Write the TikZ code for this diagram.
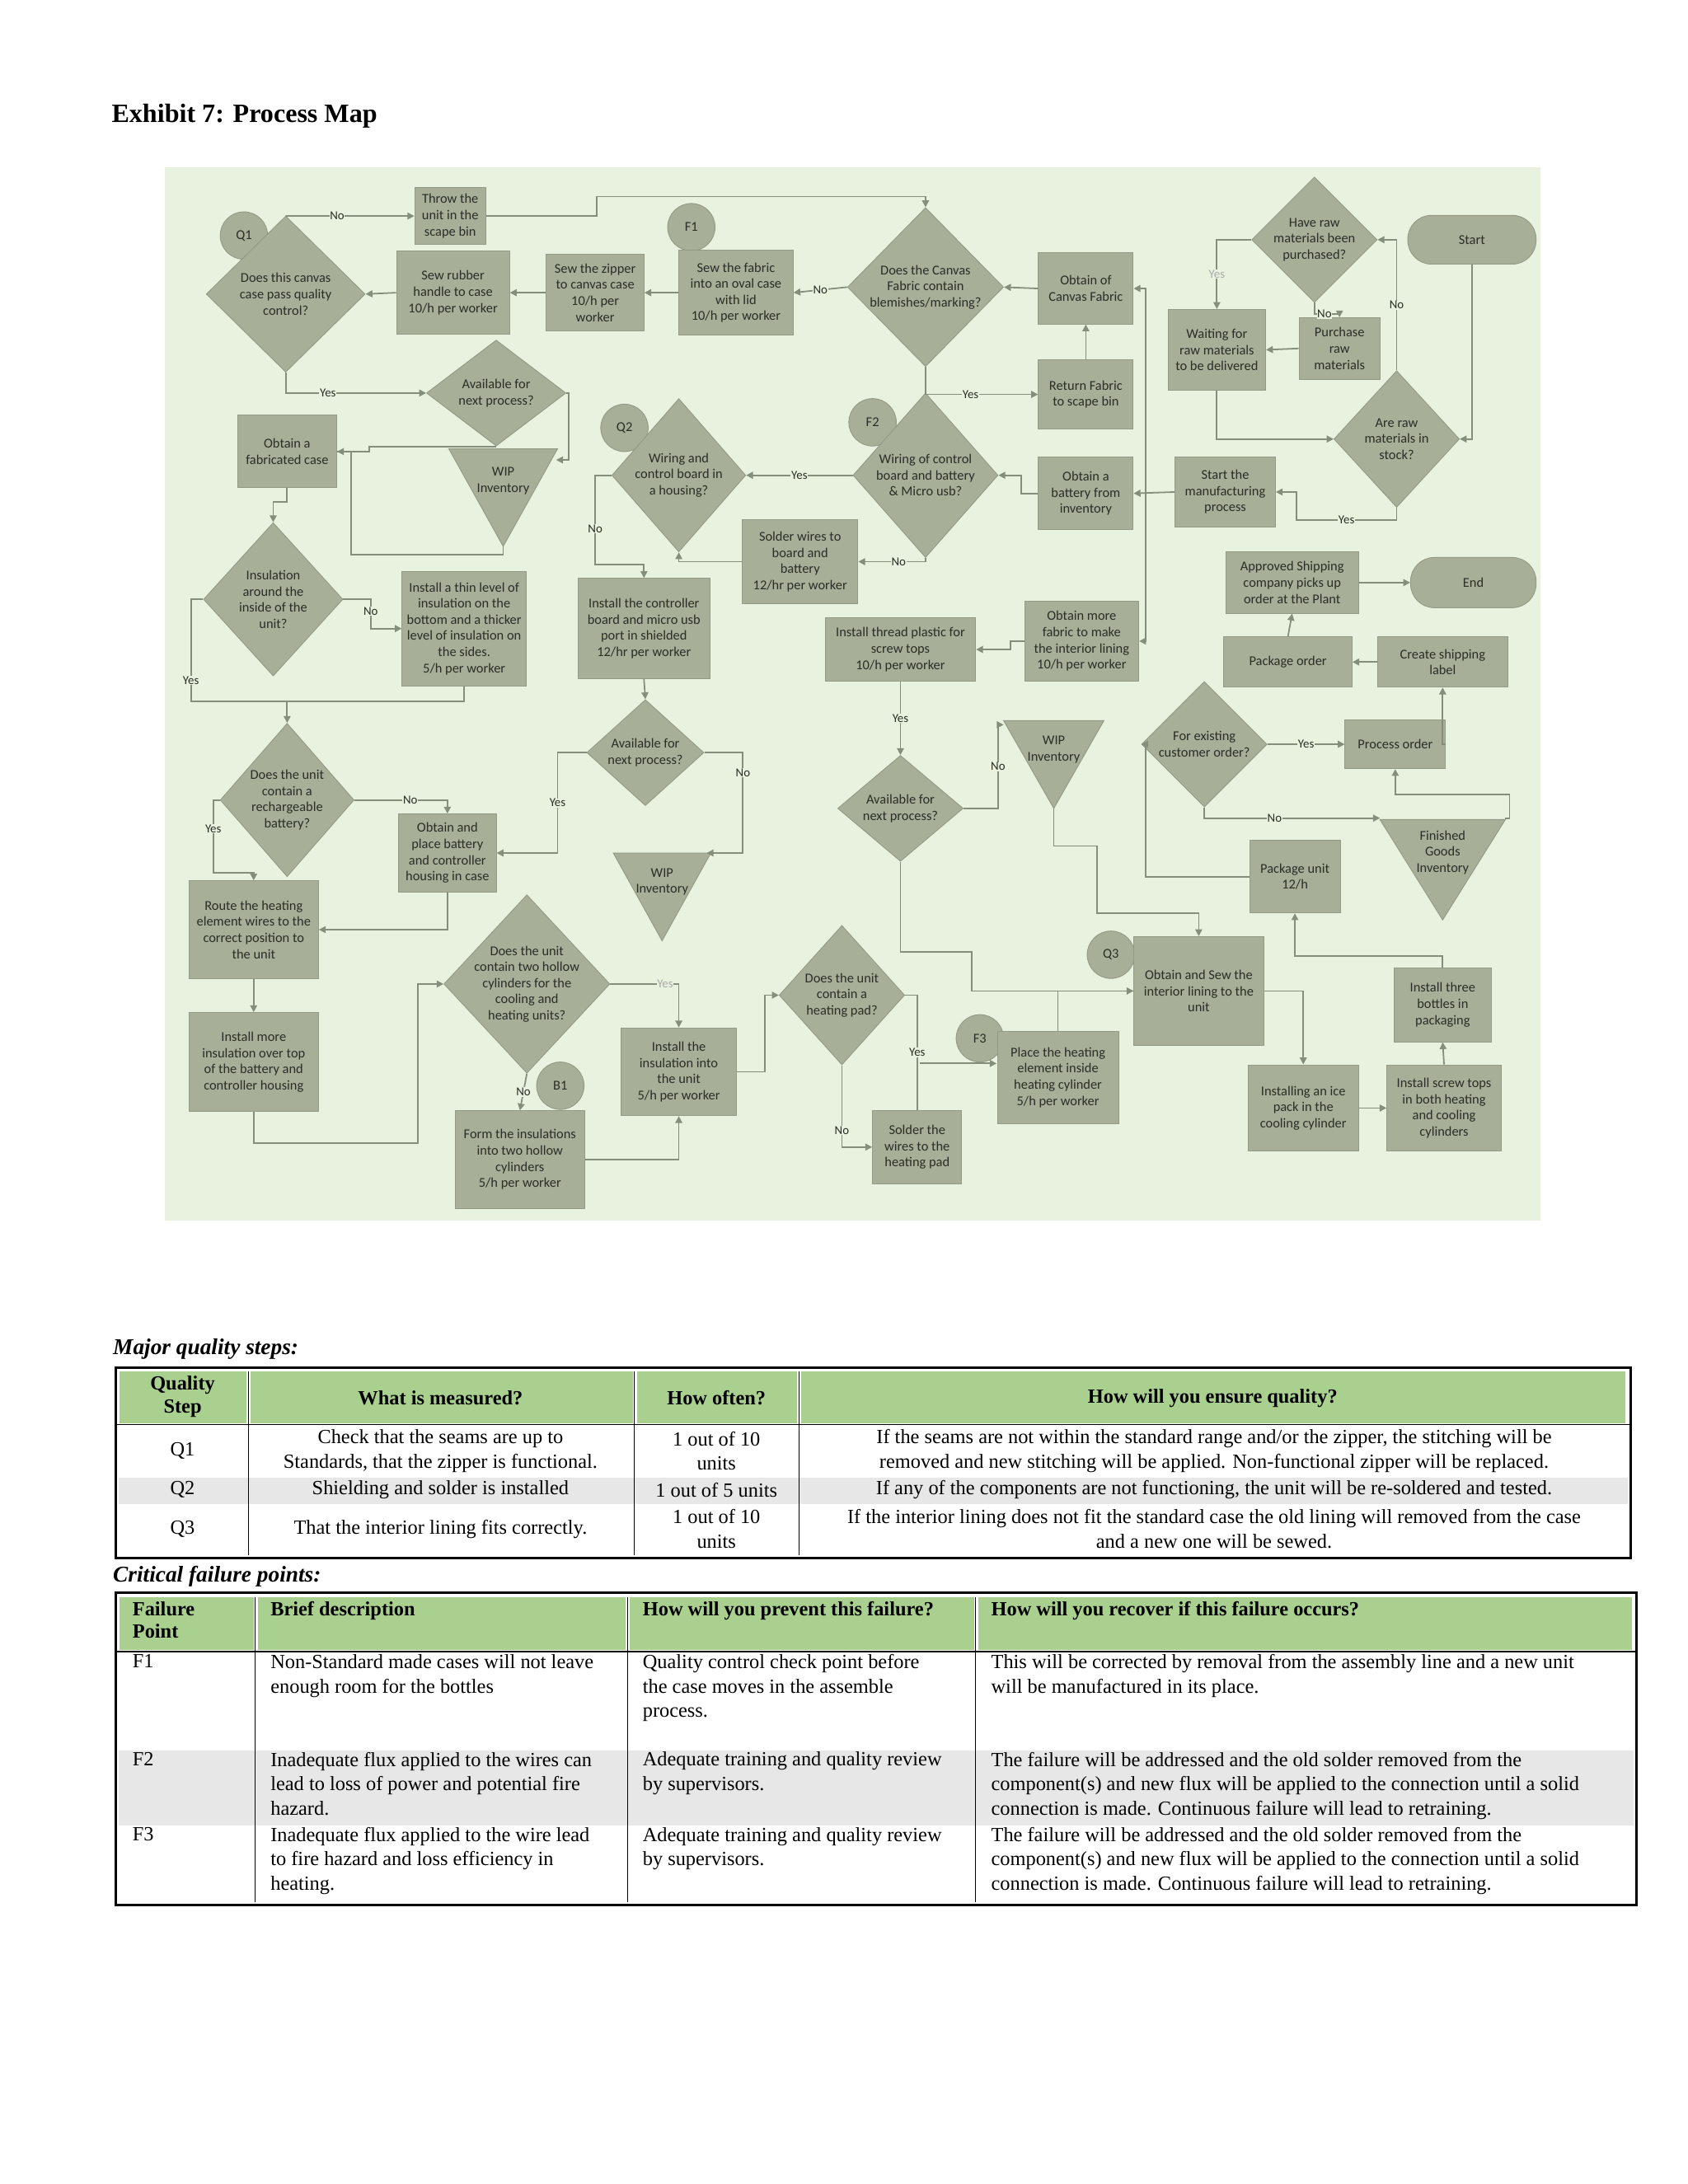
\documentclass[tikz,border=0pt]{standalone}
\usepackage{fontspec}
\setmainfont{Liberation Serif}
\newfontfamily\fc{Carlito}
\usetikzlibrary{shapes.geometric,arrows.meta,calc}
\newlength\pxu \setlength\pxu{0.05cm}
\definecolor{bgc}{HTML}{E9F1DF}
\definecolor{boxc}{HTML}{A7AF99}
\definecolor{bordc}{HTML}{939B87}
\definecolor{linec}{HTML}{858D7B}
\definecolor{txtc}{HTML}{2A2E25}
\definecolor{hdrg}{HTML}{A9D08E}
\definecolor{rowg}{HTML}{E7E7E7}
\newcommand{\wiptri}[6]{% name, cx, topy, halfw, h, text
  \fill[boxc,draw=bordc,line width=0.8pt] (#2-#4,#3) -- (#2+#4,#3) -- (#2,#3+#5) -- cycle;
  \coordinate (#1-s) at (#2,#3+#5);
  \coordinate (#1-n) at (#2,#3);
  \node[fcf] (#1) at (#2,#3+#5*0.33) {#6};}
\begin{document}
\begin{tikzpicture}[x=0.05cm,y=-0.05cm,
  fcf/.style={font=\fc\fontsize{13.8}{16.5}\selectfont, text=txtc, align=center, inner sep=0pt},
  box/.style={fcf, draw=bordc, line width=0.8pt, fill=boxc, inner sep=1pt},
  dia/.style={fcf, diamond, draw=bordc, line width=0.8pt, fill=boxc, inner sep=-4pt},
  circ/.style={fcf, circle, draw=bordc, line width=0.8pt, fill=boxc, minimum size=34\pxu},
  term/.style={box, rounded corners=17\pxu},
  lbl/.style={font=\fc\fontsize{12.5}{14}\selectfont, text=txtc, fill=bgc, inner sep=0.6pt},
  con/.style={draw=linec, line width=1.5pt},
  arr/.style={con, -{Triangle[length=7pt,width=7pt]}},
  tt/.style={font=\fontsize{20.5}{24.8}\selectfont, inner sep=0pt},
  th/.style={font=\bfseries\fontsize{20.5}{23}\selectfont, inner sep=0pt}]
\fill[white] (0,0) rectangle (1211,1567);
\useasboundingbox (0,0) rectangle (1211,1567);
\node[anchor=west, font=\bfseries\fontsize{27}{30}\selectfont, inner sep=0pt] (title) at (80,83) {Exhibit 7: Process Map};
\fill[bgc] (118,120) rectangle (1105,876);

% circles
\node[circ] (cq1) at (175,169) {Q1};
\node[circ] (cf1) at (496,163) {F1};
\node[circ] (cq2) at (448,307) {Q2};
\node[circ] (cf2) at (626,303) {F2};
\node[circ] (cb1) at (402,779) {B1};
\node[circ] (cf3) at (703,745) {F3};
\node[circ] (cq3) at (797,685) {Q3};

% boxes
\node[box,minimum width=51\pxu,minimum height=41\pxu] (throw) at (323,155) {Throw the\\unit in the\\scape bin};
\node[box,minimum width=81\pxu,minimum height=60\pxu] (rubber) at (325,210) {Sew rubber\\handle to case\\10/h per worker};
\node[box,minimum width=70\pxu,minimum height=55\pxu] (zipper) at (427,210) {Sew the zipper\\to canvas case\\10/h per\\worker};
\node[box,minimum width=82\pxu,minimum height=61\pxu] (sewfab) at (528,210) {Sew the fabric\\into an oval case\\with lid\\10/h per worker};
\node[box,minimum width=68\pxu,minimum height=51\pxu] (canvas) at (779,207) {Obtain of\\Canvas Fabric};
\node[box,minimum width=68\pxu,minimum height=50\pxu] (ret) at (779,283) {Return Fabric\\to scape bin};
\node[box,minimum width=70\pxu,minimum height=58\pxu] (wait) at (873,251) {Waiting for\\raw materials\\to be delivered};
\node[box,minimum width=58\pxu,minimum height=44\pxu] (purch) at (961,250) {Purchase\\raw\\materials};
\node[box,minimum width=72\pxu,minimum height=50\pxu] (startm) at (879,353) {Start the\\manufacturing\\process};
\node[box,minimum width=68\pxu,minimum height=52\pxu] (battery) at (779,354) {Obtain a\\battery from\\inventory};
\node[box,minimum width=83\pxu,minimum height=60\pxu] (solderw) at (574,403) {Solder wires to\\board and\\battery\\12/hr per worker};
\node[box,minimum width=71\pxu,minimum height=52\pxu] (fab) at (206,324) {Obtain a\\fabricated case};
\node[box,minimum width=89\pxu,minimum height=82\pxu] (thin) at (333,451) {Install a thin level of\\insulation on the\\bottom and a thicker\\level of insulation on\\the sides.\\5/h per worker};
\node[box,minimum width=95\pxu,minimum height=72\pxu] (ctrl) at (462,451) {Install the controller\\board and micro usb\\port in shielded\\12/hr per worker};
\node[box,minimum width=108\pxu,minimum height=46\pxu] (tp) at (646,466) {Install thread plastic for\\screw tops\\10/h per worker};
\node[box,minimum width=82\pxu,minimum height=57\pxu] (mf) at (776,460) {Obtain more\\fabric to make\\the interior lining\\10/h per worker};
\node[box,minimum width=95\pxu,minimum height=44\pxu] (appr) at (927,418) {Approved Shipping\\company picks up\\order at the Plant};
\node[box,minimum width=92\pxu,minimum height=36\pxu] (pkgo) at (924,475) {Package order};
\node[box,minimum width=93\pxu,minimum height=36\pxu] (cl) at (1035,475) {Create shipping\\label};
\node[box,minimum width=70\pxu,minimum height=56\pxu] (op) at (321,612) {Obtain and\\place battery\\and controller\\housing in case};
\node[box,minimum width=93\pxu,minimum height=70\pxu] (route) at (182,667) {Route the heating\\element wires to the\\correct position to\\the unit};
\node[box,minimum width=93\pxu,minimum height=71\pxu] (mi) at (182,762) {Install more\\insulation over top\\of the battery and\\controller housing};
\node[box,minimum width=93\pxu,minimum height=70\pxu] (form) at (373,832) {Form the insulations\\into two hollow\\cylinders\\5/h per worker};
\node[box,minimum width=83\pxu,minimum height=63\pxu] (ii) at (487,769) {Install the\\insulation into\\the unit\\5/h per worker};
\node[box,minimum width=64\pxu,minimum height=53\pxu] (solder) at (658,823) {Solder the\\wires to the\\heating pad};
\node[box,minimum width=87\pxu,minimum height=66\pxu] (place) at (759,773) {Place the heating\\element inside\\heating cylinder\\5/h per worker};
\node[box,minimum width=72\pxu,minimum height=35\pxu] (po) at (1001,534) {Process order};
\node[box,minimum width=65\pxu,minimum height=52\pxu] (pu) at (929,629) {Package unit\\12/h};
\node[box,minimum width=93\pxu,minimum height=78\pxu] (os) at (860,711) {Obtain and Sew the\\interior lining to the\\unit};
\node[box,minimum width=70\pxu,minimum height=53\pxu] (tb) at (1035,721) {Install three\\bottles in\\packaging};
\node[box,minimum width=79\pxu,minimum height=62\pxu] (ice) at (935,795) {Installing an ice\\pack in the\\cooling cylinder};
\node[box,minimum width=82\pxu,minimum height=62\pxu] (st) at (1036,795) {Install screw tops\\in both heating\\and cooling\\cylinders};
\node[term,minimum width=92\pxu,minimum height=35\pxu] (start) at (1056,172) {Start};
\node[term,minimum width=90\pxu,minimum height=36\pxu] (end) at (1057,418) {End};

% diamonds
\node[dia,minimum width=114\pxu,minimum height=112\pxu] (q1) at (205,211) {Does this canvas\\case pass quality\\control?};
\node[dia,minimum width=112\pxu,minimum height=114\pxu] (cdia) at (664,206) {Does the Canvas\\Fabric contain\\blemishes/marking?};
\node[dia,minimum width=90\pxu,minimum height=90\pxu] (have) at (943,172) {Have raw\\materials been\\purchased?};
\node[dia,minimum width=90\pxu,minimum height=98\pxu] (stock) at (1002,315) {Are raw\\materials in\\stock?};
\node[dia,minimum width=104\pxu,minimum height=118\pxu] (wiring) at (664,341) {Wiring of control\\board and battery\\\& Micro usb?};
\node[dia,minimum width=96\pxu,minimum height=110\pxu] (wd) at (487,341) {Wiring and\\control board in\\a housing?};
\node[dia,minimum width=100\pxu,minimum height=76\pxu] (av1) at (356,282) {Available for\\next process?};
\node[dia,minimum width=100\pxu,minimum height=110\pxu] (ins) at (196,430) {Insulation\\around the\\inside of the\\unit?};
\node[dia,minimum width=96\pxu,minimum height=110\pxu] (batt) at (206,574) {Does the unit\\contain a\\rechargeable\\battery?};
\node[dia,minimum width=84\pxu,minimum height=76\pxu] (av2) at (463,540) {Available for\\next process?};
\node[dia,minimum width=94\pxu,minimum height=128\pxu] (two) at (378,706) {Does the unit\\contain two hollow\\cylinders for the\\cooling and\\heating units?};
\node[dia,minimum width=90\pxu,minimum height=100\pxu] (hp) at (604,714) {Does the unit\\contain a\\heating pad?};
\node[dia,minimum width=90\pxu,minimum height=76\pxu] (av3) at (646,580) {Available for\\next process?};
\node[dia,minimum width=90\pxu,minimum height=90\pxu] (fe) at (864,534) {For existing\\customer order?};

% triangles
\wiptri{wip1}{361}{322}{39}{70}{WIP\\Inventory}
\wiptri{wip2}{475}{612}{35}{63}{WIP\\Inventory}
\wiptri{wip3}{756}{517}{36}{63}{WIP\\Inventory}
\wiptri{fg}{1035}{588}{45}{72}{Finished\\Goods\\Inventory}

% connectors
\draw[arr] (start.south) |- (stock.east);
\draw[arr] (stock.north) |- node[lbl,pos=0.25]{No} (have.east);
\draw[arr] (have.south) -- ++(0,8) -| node[lbl,pos=0.2]{No} (purch.north);
\draw[arr] (have.west) -| node[lbl,pos=0.75,text=txtc!40]{Yes} (wait.north);
\draw[arr] (purch.west) -- (wait.east);
\draw[arr] (wait.south) |- (stock.west);
\draw[arr] (stock.south) |- (930,373) node[lbl,pos=0.75]{Yes} |- (startm.east);
\draw[arr] (startm.west) -- (battery.east);
\coordinate (jn) at (822,353);
\draw[arr] (jn) |- (canvas.east);
\draw[arr] (jn) |- (mf.east);
\draw[arr] (battery.west) -- ++(-12,0) |- (wiring.east);
\draw[arr] (ret.north) -- (canvas.south);
\draw[arr] (canvas.west) -- (cdia.east);
\draw[arr] (cdia.south) |- node[lbl,pos=0.7]{Yes} (ret.west);
\draw[arr] (cdia.west) -- node[lbl]{No} (sewfab.east);
\draw[arr] (sewfab.west) -- (zipper.east);
\draw[arr] (zipper.west) -- (rubber.east);
\draw[arr] (rubber.west) -- (q1.east);
\draw[arr] (q1.north) |- node[lbl,pos=0.7]{No} (throw.west);
\draw[arr] (throw.east) -- (428,155) -- (428,141) -| (cdia.north);
\draw[arr] (q1.south) |- node[lbl,pos=0.65]{Yes} (av1.west);
\draw[arr] (av1.east) -| (408,330) -- (399,330);
\draw[arr] (av1.south) -| (265,324) -- (fab.east);
\draw[con] (wip1-s) |- (252,398) |- (fab.east);
\draw[arr] (fab.south) -- ++(0,10) -| (ins.north);
\draw[arr] (ins.east) -| (266,451) node[lbl,pos=0.7]{No} -- (thin.west);
\draw[con] (ins.west) -| (137,503) node[lbl,pos=0.9]{Yes} -| (thin.south);
\draw[arr] (206,503) -- (batt.north);
\draw[arr] (batt.east) -| node[lbl,pos=0.3]{No} (op.north);
\draw[arr] (batt.west) -| (153,626) node[lbl,pos=0.7]{Yes} -| (route.north);
\draw[arr] (op.south) |- (route.east);
\draw[arr] (route.south) -- (mi.north);
\draw[arr] (mi.south) |- (300,820) |- (two.west);
\draw[arr] (two.east) -| node[lbl,pos=0.4,text=txtc!40]{Yes} (ii.north);
\draw[arr] (two.south) -- node[lbl]{No} (form.north);
\draw[arr] (form.east) -| (ii.south);
\draw[arr] (ii.east) -- ++(20,0) |- (hp.west);
\draw[arr] (hp.south) |- node[lbl,pos=0.4]{No} (solder.west);
\draw[con] (hp.east) -| node[lbl,pos=0.75]{Yes} (solder.north);
\draw[arr] (660,763) -- (715,763);
\draw[arr] (av3.south) |- (697,683) |- (os.west);
\draw[con] (place.north) |- (os.west);
\draw[arr] (av3.east) -| (716,520) node[lbl,pos=0.75]{No} -- (720,520);
\draw[arr] (wip3-s) |- (787,607) |- (860,655) -- (os.north);
\draw[arr] (ctrl.south) -- (av2.north);
\draw[arr] (av2.west) -| (400,612) node[lbl,pos=0.75]{Yes} -- (op.east);
\draw[arr] (av2.east) -| (533,612) node[lbl,pos=0.6]{No} -- (507,612);
\draw[arr] (wd.west) -| (427,405) node[lbl,pos=0.8]{No} -| (ctrl.north);
\draw[arr] (wiring.south) |- node[lbl,pos=0.7]{No} (solderw.east);
\draw[arr] (wiring.west) -- node[lbl]{Yes} (wd.east);
\draw[arr] (solderw.west) -| (wd.south);
\draw[arr] (mf.west) -- ++(-10,0) |- (tp.east);
\draw[arr] (tp.south) -- node[lbl]{Yes} (av3.north);
\draw[arr] (cl.west) -- (pkgo.east);
\draw[arr] (pkgo.north) -- (appr.south);
\draw[arr] (appr.east) -- (end.west);
\draw[arr] (po.east) -| (cl.south);
\draw[arr] (fe.east) -- node[lbl]{Yes} (po.west);
\draw[arr] (fe.south) |- node[lbl,pos=0.7]{No} (990,587);
\draw[arr] (1080,587) -- (1083,587) |- (1001,570) -- (po.south);
\draw[arr] (pu.west) -| (822,560) |- (fe.west);
\draw[arr] (os.east) -| (ice.north);
\draw[arr] (ice.east) -- (st.west);
\draw[arr] (st.north) -- (tb.south);
\draw[arr] (tb.north) |- (929,686) -- (pu.south);

% ---------- Table 1
\node[anchor=west, font=\bfseries\itshape\fontsize{23}{26}\selectfont, inner sep=0pt] (t1title) at (81,968) {Major quality steps:};
\fill[hdrg] (86,984) rectangle (177,1021);
\fill[hdrg] (180,984) rectangle (454,1021);
\fill[hdrg] (457,984) rectangle (572,1021);
\fill[hdrg] (575,984) rectangle (1166,1021);
\fill[rowg] (85,1060) rectangle (1168,1079);
\draw[line width=1pt] (83,1022) -- (1170,1022);
\draw[line width=0.6pt] (178,984) -- (178,1116) (455,984) -- (455,1116) (573,984) -- (573,1116);
\draw[line width=2.5pt] (83,981) rectangle (1170,1118);
\node[th,align=center] (h11) at (131,1002) {Quality\\Step};
\node[th] (h12) at (316,1003) {What is measured?};
\node[th] (h13) at (514,1003) {How often?};
\node[th] (h14) at (870,1003) {How will you ensure quality?};
\node[tt] (r11) at (131,1041) {Q1};
\node[tt,align=center] (r12) at (316,1041) {Check that the seams are up to\\Standards, that the zipper is functional.};
\node[tt,align=center] (r13) at (514,1041) {1 out of 10\\units};
\node[tt,align=center] (r14) at (871,1041) {If the seams are not within the standard range and/or the zipper, the stitching will be\\removed and new stitching will be applied. Non-functional zipper will be replaced.};
\node[tt] (r21) at (131,1069) {Q2};
\node[tt] (r22) at (316,1069) {Shielding and solder is installed};
\node[tt] (r23) at (514,1069) {1 out of 5 units};
\node[tt] (r24) at (871,1069) {If any of the components are not functioning, the unit will be re-soldered and tested.};
\node[tt] (r31) at (131,1097) {Q3};
\node[tt] (r32) at (316,1097) {That the interior lining fits correctly.};
\node[tt,align=center] (r33) at (514,1097) {1 out of 10\\units};
\node[tt,align=center] (r34) at (871,1097) {If the interior lining does not fit the standard case the old lining will removed from the case\\and a new one will be sewed.};

% ---------- Table 2
\node[anchor=west, font=\bfseries\itshape\fontsize{23}{26}\selectfont, inner sep=0pt] (t2title) at (81,1131) {Critical failure points:};
\fill[hdrg] (86,1146) rectangle (182,1184);
\fill[hdrg] (185,1146) rectangle (449,1184);
\fill[hdrg] (452,1146) rectangle (699,1184);
\fill[hdrg] (702,1146) rectangle (1171,1184);
\fill[rowg] (85,1256) rectangle (1172,1310);
\draw[line width=1pt] (83,1185) -- (1174,1185);
\draw[line width=0.6pt] (183,1146) -- (183,1365) (450,1146) -- (450,1365) (700,1146) -- (700,1365);
\draw[line width=2.5pt] (83,1143) rectangle (1174,1367);
\node[th,anchor=north west,align=left] (g1) at (95,1149) {Failure\\Point};
\node[th,anchor=north west] (g2) at (194,1149) {Brief description};
\node[th,anchor=north west] (g3) at (461,1149) {How will you prevent this failure?};
\node[th,anchor=north west] (g4) at (711,1149) {How will you recover if this failure occurs?};
\node[tt,anchor=north west,align=left] (f11) at (95,1187) {F1};
\node[tt,anchor=north west,align=left] (f12) at (194,1187) {Non-Standard made cases will not leave\\enough room for the bottles};
\node[tt,anchor=north west,align=left] (f13) at (461,1187) {Quality control check point before\\the case moves in the assemble\\process.};
\node[tt,anchor=north west,align=left] (f14) at (711,1187) {This will be corrected by removal from the assembly line and a new unit\\will be manufactured in its place.};
\node[tt,anchor=north west,align=left] (f21) at (95,1257) {F2};
\node[tt,anchor=north west,align=left] (f22) at (194,1257) {Inadequate flux applied to the wires can\\lead to loss of power and potential fire\\hazard.};
\node[tt,anchor=north west,align=left] (f23) at (461,1257) {Adequate training and quality review\\by supervisors.};
\node[tt,anchor=north west,align=left] (f24) at (711,1257) {The failure will be addressed and the old solder removed from the\\component(s) and new flux will be applied to the connection until a solid\\connection is made. Continuous failure will lead to retraining.};
\node[tt,anchor=north west,align=left] (f31) at (95,1311) {F3};
\node[tt,anchor=north west,align=left] (f32) at (194,1311) {Inadequate flux applied to the wire lead\\to fire hazard and loss efficiency in\\heating.};
\node[tt,anchor=north west,align=left] (f33) at (461,1311) {Adequate training and quality review\\by supervisors.};
\node[tt,anchor=north west,align=left] (f34) at (711,1311) {The failure will be addressed and the old solder removed from the\\component(s) and new flux will be applied to the connection until a solid\\connection is made. Continuous failure will lead to retraining.};
\end{tikzpicture}
\end{document}
